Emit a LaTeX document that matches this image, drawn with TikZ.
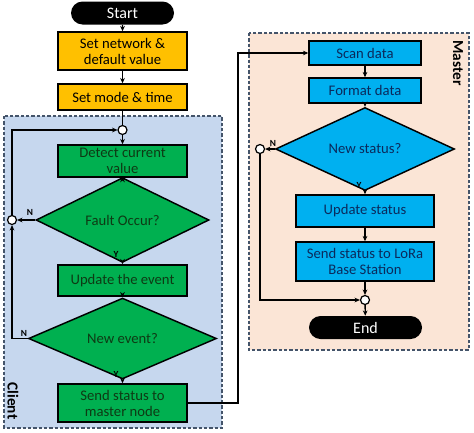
\documentclass[tikz,border=0pt]{standalone}
\usepackage{fontspec}
\setmainfont{Carlito}
\usetikzlibrary{shapes.geometric,shapes.misc,arrows.meta}
\definecolor{orng}{HTML}{FFC000}
\definecolor{grn}{HTML}{00B050}
\definecolor{blu}{HTML}{00B0F0}
\definecolor{clientbg}{HTML}{C6D7EE}
\definecolor{masterbg}{HTML}{FBE5D6}
\definecolor{dashc}{HTML}{44546A}
\definecolor{grntxt}{HTML}{0E3A14}
\definecolor{blutxt}{HTML}{0B2A5C}
\tikzset{
  base/.style={draw=black, line width=1.1pt, inner sep=1pt, align=center, font=\fontsize{11}{12}\selectfont},
  obox/.style={base, fill=orng, text=black, minimum width=129*0.75pt},
  gbox/.style={base, fill=grn, text=grntxt, minimum width=129*0.75pt},
  bbox/.style={base, fill=blu, text=blutxt},
  gdia/.style={base, diamond, fill=grn, text=grntxt, inner sep=0pt},
  bdia/.style={base, diamond, fill=blu, text=blutxt, inner sep=0pt},
  term/.style={rounded rectangle, fill=black, text=white, font=\fontsize{12}{13}\selectfont, inner sep=0pt},
  junc/.style={circle, draw=black, fill=white, line width=0.9pt, minimum size=9*0.75pt, inner sep=0pt},
  conn/.style={draw=black, line width=1pt, -{Stealth[length=4pt,width=3.5pt]}},
  line/.style={draw=black, line width=1pt},
  yn/.style={font=\bfseries\fontsize{7}{8}\selectfont, inner sep=0pt},
  region/.style={draw=dashc, line width=0.8pt, dash pattern=on 2.5pt off 1.5pt},
  lbl/.style={font=\bfseries\fontsize{11.5}{12}\selectfont, rotate=-90, inner sep=0pt}
}
\begin{document}
\begin{tikzpicture}[x=0.75pt,y=-0.75pt]
\useasboundingbox (0,0) rectangle (474,432);
% regions
\draw[region, fill=clientbg] (4,116) rectangle (222,428);
\draw[region, fill=masterbg] (249,33) rectangle (469,350);
\node[lbl] (clientlbl) at (13,401) {Client};
\node[lbl] (masterlbl) at (458,63) {Master};
% client side
\node[term, minimum width=103*0.75pt, minimum height=23*0.75pt] (start) at (122.5,13) {Start};
\node[obox, minimum height=38*0.75pt] (net) at (122.5,51) {Set network \&\\default value};
\node[obox, minimum height=26*0.75pt] (mode) at (122.5,97) {Set mode \& time};
\node[junc] (j1) at (122.5,130) {};
\node[gbox, minimum height=32*0.75pt] (detect) at (122.5,161) {Detect current\\value};
\node[gdia, minimum width=173*0.75pt, minimum height=57*0.75pt] (fault) at (122.5,220) {Fault Occur?};
\node[junc] (j2) at (12,220) {};
\node[gbox, minimum height=31*0.75pt] (update) at (122.5,280.5) {Update the event};
\node[gdia, minimum width=188*0.75pt, minimum height=57*0.75pt] (newev) at (122.5,338.5) {New event?};
\node[gbox, minimum height=38*0.75pt] (send) at (122.5,403) {Send status to\\master node};
% master side
\node[bbox, minimum width=112*0.75pt, minimum height=24*0.75pt] (scan) at (365,53) {Scan data};
\node[bbox, minimum width=112*0.75pt, minimum height=25*0.75pt] (format) at (365,90.5) {Format data};
\node[bdia, minimum width=179*0.75pt, minimum height=64*0.75pt] (newst) at (365,149) {New status?};
\node[junc] (j3) at (260,149) {};
\node[bbox, minimum width=138*0.75pt, minimum height=32*0.75pt] (updst) at (365,211) {Update status};
\node[bbox, minimum width=138*0.75pt, minimum height=39*0.75pt] (lora) at (365,261.5) {Send status to LoRa\\Base Station};
\node[junc] (j4) at (365,300) {};
\node[term, minimum width=113*0.75pt, minimum height=23*0.75pt] (end) at (365.5,327.5) {End};
% client connectors
\draw[conn] (start) -- (net);
\draw[conn] (net) -- (mode);
\draw[line] (mode) -- (j1);
\draw[conn] (j1) -- (detect);
\draw[conn] (detect) -- (fault);
\draw[conn] (fault) -- (update);
\draw[conn] (update) -- (newev);
\draw[conn] (newev) -- (send);
\draw[conn] (fault.west) -- (j2);
\draw[conn] (j2) |- (j1);
\coordinate (c1) at (12,338.5);
\draw[conn] (newev.west) -- (c1) -- (j2);
\node[yn] (n1) at (30,212) {N};
\node[yn] (y1) at (116,254) {Y};
\node[yn] (n2) at (24,333) {N};
\node[yn] (y2) at (116,374) {Y};
% cross connector
\coordinate (c2) at (238,403);
\coordinate (c3) at (238,53);
\draw[conn] (send.east) -- (c2) -- (c3) -- (scan.west);
% master connectors
\draw[conn] (scan) -- (format);
\draw[conn] (format) -- (newst);
\draw[conn] (newst) -- (updst);
\draw[conn] (updst) -- (lora);
\draw[conn] (lora) -- (j4);
\draw[conn] (j4) -- (end);
\draw[conn] (newst.west) -- (j3);
\draw[conn] (j3) |- (j4);
\node[yn] (n3) at (273,143) {N};
\node[yn] (y3) at (359,185) {Y};
\end{tikzpicture}
\end{document}
